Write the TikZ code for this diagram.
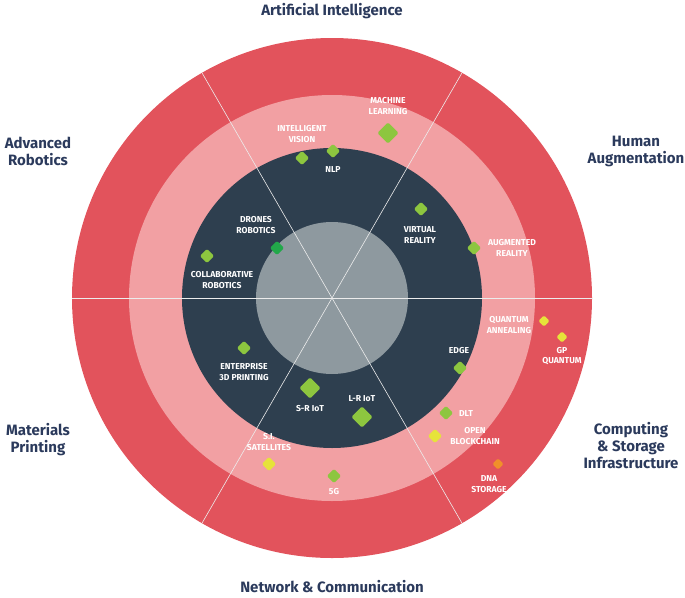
\documentclass[tikz,border=0pt]{standalone}
\usepackage{fontspec}
\setmainfont{Fira Sans}
\usetikzlibrary{calc}
\definecolor{ringred}{HTML}{E2535C}
\definecolor{ringpink}{HTML}{F2A0A3}
\definecolor{ringdark}{HTML}{2E3F4F}
\definecolor{ringgray}{HTML}{8E999F}
\definecolor{navy}{HTML}{2B3A5C}
\definecolor{techgreen}{HTML}{8DC63F}
\definecolor{techyellow}{HTML}{E6E33A}
\definecolor{techorange}{HTML}{F0902A}
\definecolor{techdark}{HTML}{22A84A}
\begin{document}
\begin{tikzpicture}[
      x=1pt, y=-1pt,
      dot/.style={rectangle, rotate=45, rounded corners=1.5pt, fill=techgreen, inner sep=0pt, minimum size=10pt},
      bigdot/.style={dot, minimum size=15pt},
      tech/.style={text=white, font=\bfseries\fontsize{8.6}{10.5}\selectfont, align=center, inner sep=0pt},
      area/.style={text=navy, font=\bfseries\fontsize{15}{17}\selectfont, align=center, inner sep=0pt},
      divider/.style={white!85!gray, line width=0.6pt}
      ]
      \useasboundingbox (0,0) rectangle (685,597);
      \coordinate (c) at (332,298);
      % rings
      \fill[ringred] (c) circle (260);
      \fill[ringpink] (c) circle (203);
      \fill[ringdark] (c) circle (150);
      \fill[ringgray] (c) circle (76);
      % sector dividers
      \foreach \a in {0,60,120}
        \draw[divider] ($(c)+(\a:260)$) -- ($(c)+(\a+180:260)$);
      % areas
      \node[area] (ai) at (332,11) {Artificial Intelligence};
      \node[area] (ha) at (636,151) {Human\\Augmentation};
      \node[area] (ar) at (38,151) {Advanced\\Robotics};
      \node[area] (cs) at (631,446) {Computing\\\& Storage\\Infrastructure};
      \node[area] (mp) at (38,440) {Materials\\Printing};
      \node[area] (nc) at (332,587) {Network \& Communication};
      % technologies
      \node[bigdot] (ml) at (388,133) {};
      \node[tech] (mlt) at (388,106) {MACHINE\\LEARNING};
      \node[dot] (iv) at (302,158) {};
      \node[tech] (ivt) at (302,134) {INTELLIGENT\\VISION};
      \node[dot] (nlp) at (333,151) {};
      \node[tech] (nlpt) at (333,170) {NLP};
      \node[dot] (vr) at (421,209) {};
      \node[tech] (vrt) at (420,235) {VIRTUAL\\REALITY};
      \node[dot] (aug) at (474,248) {};
      \node[tech] (augt) at (512,248) {AUGMENTED\\REALITY};
      \node[dot, fill=techdark] (dr) at (277,248) {};
      \node[tech] (drt) at (256,225) {DRONES\\ROBOTICS};
      \node[dot] (cr) at (207,256) {};
      \node[tech] (crt) at (222,280) {COLLABORATIVE\\ROBOTICS};
      \node[dot] (ep) at (244,348) {};
      \node[tech] (ept) at (244,372) {ENTERPRISE\\3D PRINTING};
      \node[bigdot] (sr) at (310,388) {};
      \node[tech] (srt) at (310,409) {S-R IoT};
      \node[bigdot] (lr) at (362,417) {};
      \node[tech] (lrt) at (362,399) {L-R IoT};
      \node[dot] (edge) at (460,368) {};
      \node[tech] (edget) at (459,351) {EDGE};
      \node[dot, fill=techyellow, minimum size=8pt] (qa) at (544,321) {};
      \node[tech] (qat) at (509,325) {QUANTUM\\ANNEALING};
      \node[dot, fill=techyellow, minimum size=8pt] (gp) at (562,337) {};
      \node[tech] (gpt) at (562,356) {GP\\QUANTUM};
      \node[dot] (dlt) at (446,413) {};
      \node[tech] (dltt) at (466,414) {DLT};
      \node[dot, fill=techyellow] (ob) at (435,436) {};
      \node[tech] (obt) at (475,436) {OPEN\\BLOCKCHAIN};
      \node[dot, fill=techyellow] (si) at (269,464) {};
      \node[tech] (sit) at (269,442) {S.I.\\SATELLITES};
      \node[dot] (fg) at (334,476) {};
      \node[tech] (fgt) at (334,492) {5G};
      \node[dot, fill=techorange, minimum size=8pt] (dna) at (498,464) {};
      \node[tech] (dnat) at (489,484) {DNA\\STORAGE};
\end{tikzpicture}
\end{document}
